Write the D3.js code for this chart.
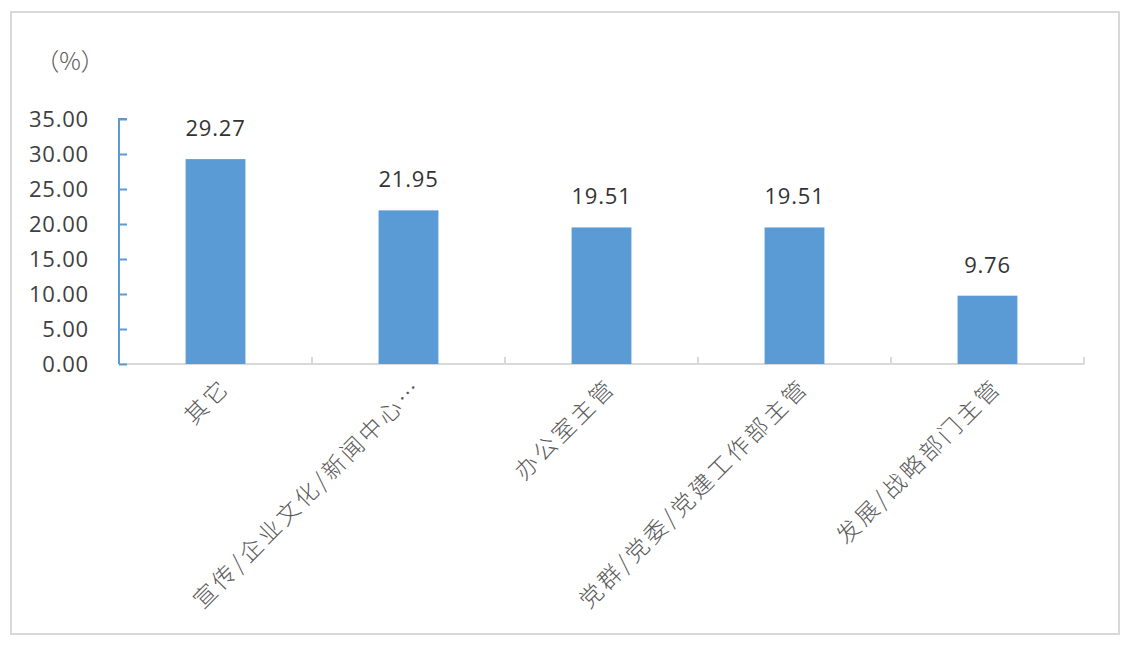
<!DOCTYPE html>
<html><head><meta charset="utf-8">
<script src="https://cdn.jsdelivr.net/npm/d3@7"></script>
<style>body{margin:0;background:#fff}</style>
</head><body>
<svg id="c" width="1128" height="648"></svg>
<script>
const categories = ["其它","宣传/企业文化/新闻中心…","办公室主管","党群/党委/党建工作部主管","发展/战略部门主管"];
const values = [29.27, 21.95, 19.51, 19.51, 9.76];
const yTicks = [0,5,10,15,20,25,30,35];
const unitLabel = "（%）";

const svg = d3.select("#c");
svg.append("rect").attr("x",11).attr("y",12).attr("width",1108).attr("height",622)
  .attr("fill","#fff").attr("stroke","#d9d9d9").attr("stroke-width",2);

const x0 = 119, x1 = 1084, yTop = 119, yBot = 364;
const x = d3.scaleBand().domain(categories).range([x0,x1]).paddingInner(0.69).paddingOuter(0.345);
const y = d3.scaleLinear().domain([0,35]).range([yBot,yTop]);

// x axis line with inward ticks at band boundaries
const bw = (x1-x0)/categories.length;
svg.append("line").attr("x1",x0).attr("x2",x1).attr("y1",yBot).attr("y2",yBot)
  .attr("stroke","#d9d9d9").attr("stroke-width",2);
d3.range(1,categories.length+1).forEach(i=>{
  svg.append("line").attr("x1",x0+i*bw).attr("x2",x0+i*bw).attr("y1",yBot).attr("y2",yBot-7)
    .attr("stroke","#d9d9d9").attr("stroke-width",2);
});

// bars
svg.selectAll("rect.bar").data(values).enter().append("rect").attr("class","bar")
  .attr("x",(d,i)=>x(categories[i])).attr("width",x.bandwidth())
  .attr("y",d=>y(d)).attr("height",d=>yBot-y(d)).attr("fill","#5b9bd5");

// y axis
const yAxis = d3.axisRight(y).tickValues(yTicks).tickSize(8).tickFormat("");
const gy = svg.append("g").attr("transform",`translate(${x0},0)`).call(yAxis);
gy.selectAll("path,line").attr("stroke","#5b9bd5").attr("stroke-width",2);
gy.select("path").attr("d",`M8,${yTop}H0V${yBot}`);
svg.append("g").selectAll("text").data(yTicks).enter().append("text")
  .attr("x",89).attr("y",d=>y(d)).attr("dy","0.36em").attr("text-anchor","end")
  .attr("font-family","'Open Sans',sans-serif").attr("font-size",22).attr("letter-spacing",0.8).attr("fill","#404040")
  .text(d=>d3.format(".2f")(d));

// unit label
svg.append("text").attr("x",70).attr("y",62).attr("dy","0.35em").attr("text-anchor","middle")
  .attr("font-family","'Noto Sans CJK SC',sans-serif").attr("font-weight",300).attr("font-size",24).attr("fill","#595959")
  .text(unitLabel);

// value labels
svg.append("g").selectAll("text").data(values).enter().append("text")
  .attr("x",(d,i)=>x(categories[i])+x.bandwidth()/2).attr("y",d=>y(d)-23)
  .attr("text-anchor","middle").attr("font-family","'Open Sans',sans-serif").attr("font-weight",500)
  .attr("font-size",22).attr("letter-spacing",0.8).attr("fill","#333333").text(d=>d3.format(".2f")(d));

// x labels
svg.append("g").selectAll("text").data(categories).enter().append("text")
  .attr("transform",d=>`translate(${x(d)+x.bandwidth()/2+10},${383}) rotate(-45)`)
  .attr("text-anchor","end").attr("dy","0.35em")
  .attr("font-family","'Noto Sans CJK SC',sans-serif").attr("font-weight",300)
  .attr("font-size",23).attr("letter-spacing",3.2).attr("fill","#595959").text(d=>d);
</script>
</body></html>
